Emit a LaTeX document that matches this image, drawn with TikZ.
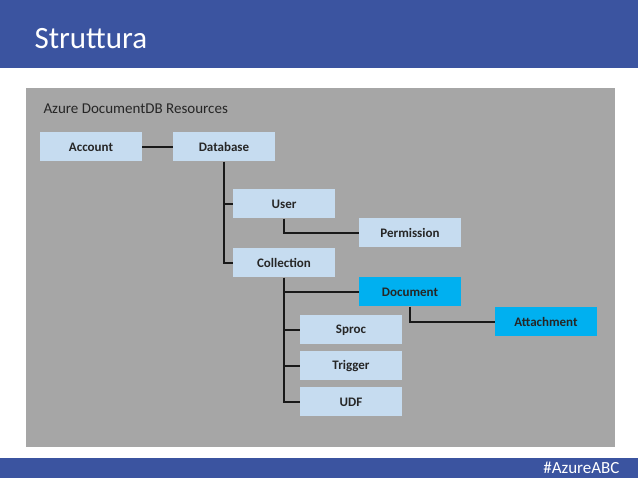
\documentclass[tikz,border=0pt]{standalone}
\usepackage{fontspec}
\setmainfont{Carlito}
\definecolor{barblue}{HTML}{3B54A0}
\definecolor{panel}{HTML}{A6A6A6}
\definecolor{boxlight}{HTML}{C6DCF0}
\definecolor{boxbright}{HTML}{00B0F0}
\tikzset{
  res/.style={rectangle, fill=boxlight, minimum width=102pt, minimum height=29pt,
    inner sep=0pt, font=\fontsize{13}{15}\selectfont\bfseries, text=black!85},
  hot/.style={res, fill=boxbright},
  link/.style={line width=1.8pt, black!90}
}
\begin{document}
\begin{tikzpicture}[x=1pt,y=-1pt]
\useasboundingbox (0,0) rectangle (638,478);
\fill[white] (0,0) rectangle (638,478);
\fill[barblue] (0,0) rectangle (638,68);
\fill[barblue] (0,458) rectangle (638,478);
\fill[panel] (26,88) rectangle (615,447);
\node[anchor=west, text=white, font=\fontsize{31}{33}\selectfont] (title) at (31,39) {Stru{}ttura};
\node[anchor=east, text=white, font=\fontsize{17}{19}\selectfont] (tag) at (623,468) {\#AzureABC};
\node[anchor=west, font=\fontsize{15}{17}\selectfont, text=black!85] (head) at (40,109) {Azure DocumentDB Resources};

\node[res] (acc) at (91,147) {Account};
\node[res] (db) at (224,147) {Database};
\node[res] (user) at (284,204) {User};
\node[res] (perm) at (410,233) {Permission};
\node[res] (coll) at (284,263) {Collection};
\node[hot] (doc) at (410,292) {Document};
\node[hot] (att) at (546,322) {Attachment};
\node[res] (sproc) at (351,330) {Sproc};
\node[res] (trig) at (351,366) {Trigger};
\node[res] (udf) at (351,402) {UDF};

\draw[link] (acc.east) -- (db.west);
\draw[link] (db.south) |- (coll.west);
\draw[link] (db.south |- user.west) -- (user.west);
\draw[link] (user.south) |- (perm.west);
\draw[link] (coll.south) |- (udf.west);
\draw[link] (coll.south |- doc.west) -- (doc.west);
\draw[link] (coll.south |- sproc.west) -- (sproc.west);
\draw[link] (coll.south |- trig.west) -- (trig.west);
\draw[link] (doc.south) |- (att.west);
\end{tikzpicture}
\end{document}
